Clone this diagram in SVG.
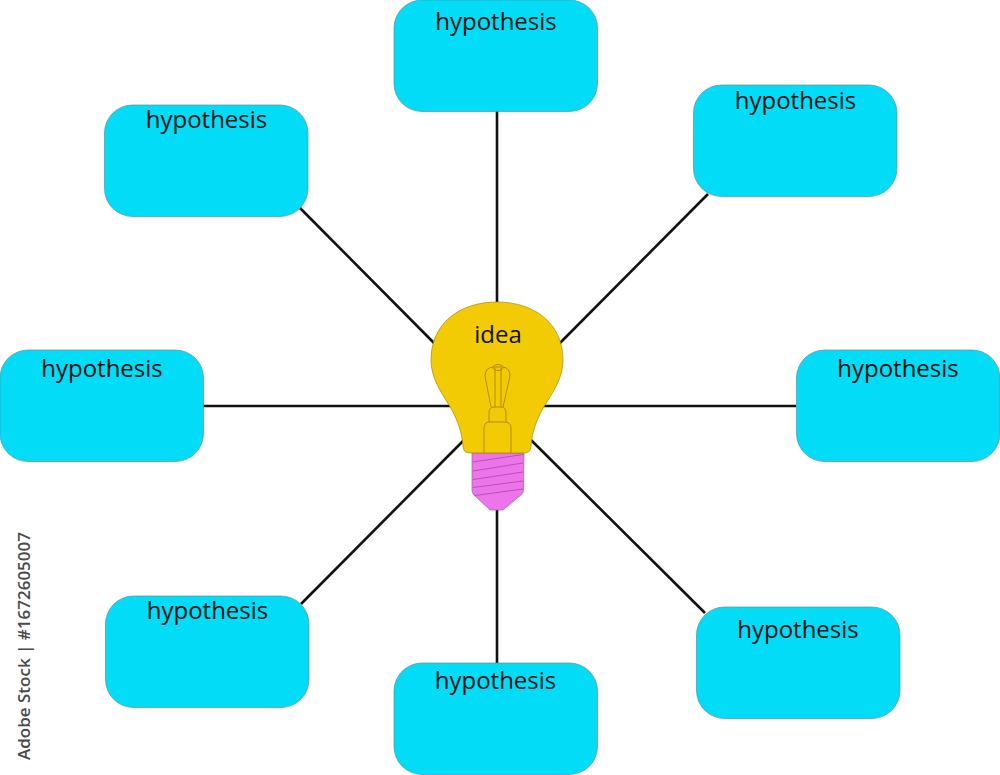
<svg xmlns="http://www.w3.org/2000/svg" width="1000" height="775" viewBox="0 0 1000 775">
<style>
.box{fill:#03dcf6;stroke:#5f8f9c;stroke-width:.7}
.lbl{font-family:"Open Sans","Noto Sans",sans-serif;font-size:24px;fill:#111;text-anchor:middle}
.con{stroke:#111;stroke-width:2.6;fill:none}
.fil{fill:none;stroke:#a8870a;stroke-width:.9}
.thr{fill:none;stroke:#a24ea0;stroke-width:.8}
</style>
<rect width="1000" height="775" fill="#fff"/>
<g id="connectors">
<line class="con" x1="497" y1="111" x2="497" y2="305"/>
<line class="con" x1="300" y1="208" x2="436" y2="345"/>
<line class="con" x1="708" y1="194" x2="558" y2="345"/>
<line class="con" x1="203" y1="406" x2="452" y2="406"/>
<line class="con" x1="796" y1="406" x2="542" y2="406"/>
<line class="con" x1="301" y1="604" x2="464" y2="440"/>
<line class="con" x1="705" y1="613" x2="531" y2="440"/>
<line class="con" x1="497" y1="663" x2="497" y2="508"/>
</g>
<g id="node-top"><rect class="box" x="394" y="0" width="203.500" height="111.500" rx="28"/><text class="lbl" x="496" y="30">hypothesis</text></g>
<g id="node-top-left"><rect class="box" x="104.500" y="105" width="203.500" height="111.500" rx="28"/><text class="lbl" x="206.500" y="128">hypothesis</text></g>
<g id="node-top-right"><rect class="box" x="693.500" y="85" width="203.500" height="111.500" rx="28"/><text class="lbl" x="795.500" y="109">hypothesis</text></g>
<g id="node-left"><rect class="box" x="0" y="350" width="203.500" height="111.500" rx="28"/><text class="lbl" x="102" y="377">hypothesis</text></g>
<g id="node-right"><rect class="box" x="796.500" y="350" width="203.500" height="111.500" rx="28"/><text class="lbl" x="898" y="377">hypothesis</text></g>
<g id="node-bottom-left"><rect class="box" x="105.500" y="596" width="203.500" height="111.500" rx="28"/><text class="lbl" x="207.500" y="619">hypothesis</text></g>
<g id="node-bottom-right"><rect class="box" x="696.500" y="607" width="203.500" height="111.500" rx="28"/><text class="lbl" x="798" y="638">hypothesis</text></g>
<g id="node-bottom"><rect class="box" x="394" y="663" width="203.500" height="111.500" rx="28"/><text class="lbl" x="495.500" y="689">hypothesis</text></g>
<g id="node-idea">
<path d="M472 453H524L523.500 490Q523.500 493 521 495L503 510H490L474 495Q472 493 472 490Z" fill="#ee74ec" stroke="#8c6a8c" stroke-width=".7"/>
<path class="thr" d="M473 462L523 454.500M473 471L523 463M473 479.500L523 472M473 487.500L523 481M475 495.500L523 489"/>
<path d="M497 302C459 302 431 324 431 360C431 378 441 392 449 405C457 418 462 432 463 446Q463 453 470 453H524Q531 453 531 446C532 432 537 418 545 405C553 392 563 378 563 360C563 324 535 302 497 302Z" fill="#f3cb04" stroke="#a8870a" stroke-width=".7"/>
<path class="fil" d="M484 453V428Q484 422 490 422H504Q511 422 511 428V453"/>
<path class="fil" d="M489 422V413Q489 407 494 407H501Q506 407 506 413V422"/>
<path class="fil" d="M491 407L485 376Q485 368 493 367H503Q510 368 510 376L503 407"/>
<path class="fil" d="M495 407V368M501 407V368"/>
<ellipse class="fil" cx="498" cy="367.500" rx="5" ry="3"/>
<text class="lbl" x="498" y="343">idea</text>
</g>
<text transform="translate(30 760) rotate(-90)" font-family="'Open Sans','Noto Sans',sans-serif" font-size="17px" font-weight="600" fill="#4a4a4a">Adobe Stock | #1672605007</text>
</svg>
